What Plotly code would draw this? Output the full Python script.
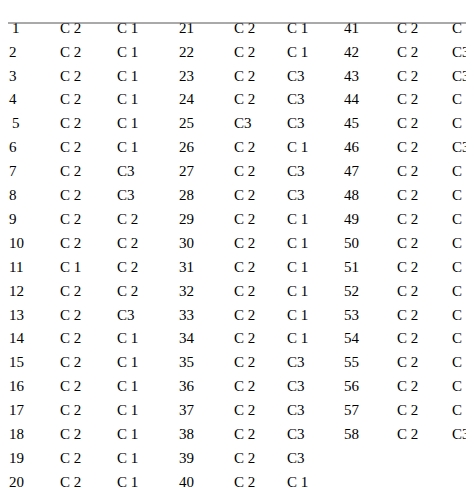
import plotly.graph_objects as go

# Table data (three blocks of Wil / H / NH)
wil_1 = [" 1", "2", "3", "4", " 5", "6", "7", "8", "9", "10", "11", "12", "13", "14", "15", "16", "17", "18", "19", "20"]
h_1 = ["C 2"] * 10 + ["C 1"] + ["C 2"] * 9
nh_1 = ["C 1", "C 1", "C 1", "C 1", "C 1", "C 1", "C3", "C3", "C 2", "C 2",
        "C 2", "C 2", "C3", "C 1", "C 1", "C 1", "C 1", "C 1", "C 1", "C 1"]
wil_2 = [str(i) for i in range(21, 41)]
h_2 = ["C 2"] * 4 + ["C3"] + ["C 2"] * 15
nh_2 = ["C 1", "C 1", "C3", "C3", "C3", "C 1", "C3", "C3", "C 1", "C 1",
        "C 1", "C 1", "C 1", "C 1", "C3", "C3", "C3", "C3", "C3", "C 1"]
wil_3 = [str(i) for i in range(41, 59)]
h_3 = ["C 2"] * 18
nh_3 = ["C 1", "C3", "C3", "C 1", "C 1", "C3", "C 1", "C 1", "C 1", "C 1",
        "C 1", "C 1", "C 1", "C 1", "C 1", "C 1", "C 1", "C3"]
headers = ["Wil", "H", "NH", "Wil", "H", "NH", "Wil", "H", "NH"]

columns = [wil_1, h_1, nh_1, wil_2, h_2, nh_2, wil_3, h_3, nh_3]
col_x = [1, 52, 109, 171, 226, 279, 336, 389, 444]
row0, step = 21, 23.9
font = dict(family="Liberation Serif", size=15, color="black")

fig = go.Figure()
for i, col in enumerate(columns):
    xs = [col_x[i] + (3 if v.startswith(" ") else 0) for v in col]
    fig.add_trace(go.Scatter(
        x=xs, y=[row0 + step * r for r in range(len(col))],
        text=[v.strip() for v in col],
        mode="text", textposition="middle right", textfont=font,
        hoverinfo="skip", showlegend=False, cliponaxis=False))

fig.add_trace(go.Scatter(
    x=col_x, y=[row0 - step - 2] * len(headers), text=headers,
    mode="text", textposition="middle right", textfont=font,
    hoverinfo="skip", showlegend=False, cliponaxis=False))

fig.add_shape(type="line", x0=0, x1=474, y0=15, y1=15,
              line=dict(color="#555", width=1))

fig.update_layout(
    width=474, height=488, margin=dict(l=0, r=0, t=0, b=0),
    paper_bgcolor="white", plot_bgcolor="white",
    xaxis=dict(range=[0, 474], visible=False, fixedrange=True),
    yaxis=dict(range=[488, 0], visible=False, fixedrange=True),
)
fig.write_html("out.html")
